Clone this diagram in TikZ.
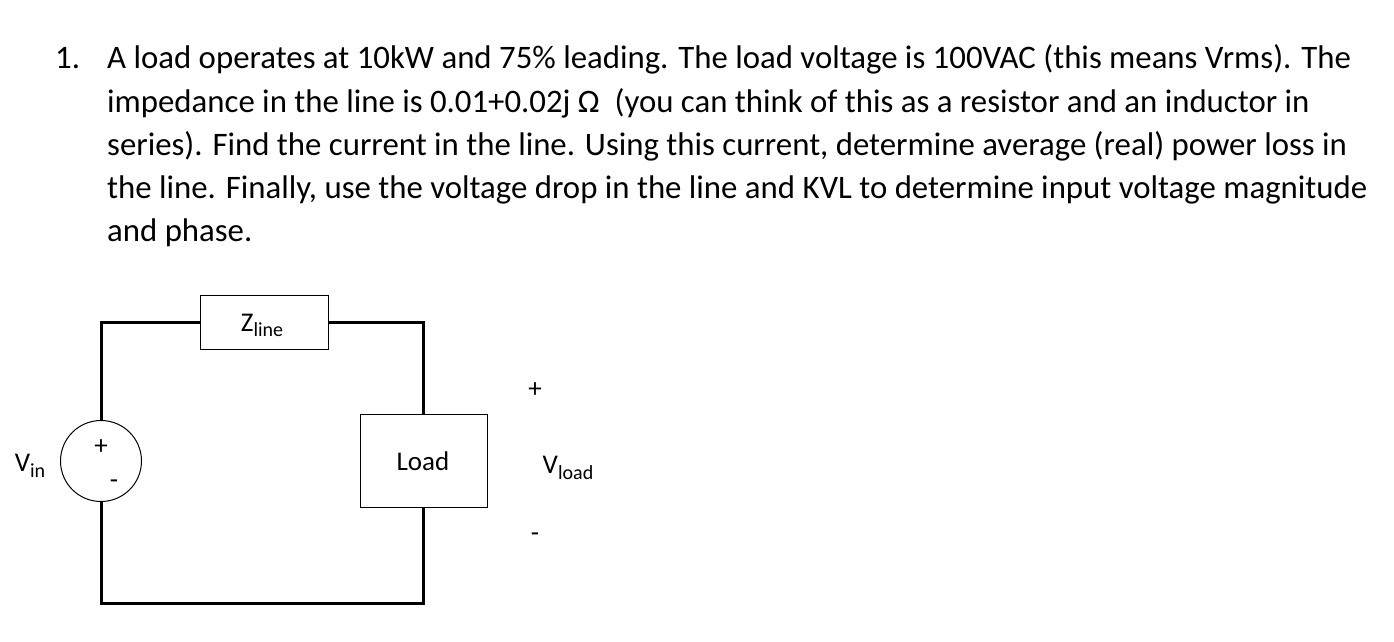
\documentclass[tikz,border=0pt]{standalone}
\usepackage{fontspec}
\setmainfont{Carlito}
\begin{document}
\begin{tikzpicture}[x=1pt,y=-1pt,
  wire/.style={line width=3pt},
  boxst/.style={draw,line width=1pt,inner sep=0pt},
  txt/.style={font=\fontsize{32.8}{44}\selectfont,anchor=base west,inner sep=0pt},
  lbl/.style={font=\fontsize{27}{30}\selectfont,inner sep=0pt}]
\useasboundingbox (0,0) rectangle (1394,642);
\node[txt] (num) at (55,68) {1.};
\node[txt] (l1) at (107,68) {A load operates at 10kW and 75\% leading. The load voltage is 100VAC (this means Vrms). The};
\node[txt] (l2) at (107,112) {impedance in the line is 0.01+0.02j Ω\ \ (you can think of this as a resistor and an inductor in};
\node[txt] (l3) at (107,155) {series). Find the current in the line. Using this current, determine average (real) power loss in};
\node[txt] (l4) at (107,198) {the line. Finally, use the voltage drop in the line and KVL to determine input voltage magnitude};
\node[txt] (l5) at (107,241) {and phase.};
\node[boxst,minimum width=128pt,minimum height=54pt] (z) at (264.5,322) {};
\node[lbl] (zt) at (262,325) {Z\raisebox{-5pt}{\fontsize{20}{22}\selectfont line}};
\node[boxst,minimum width=127pt,minimum height=93pt] (ld) at (423.5,460.5) {};
\node[lbl] (ldt) at (423,461) {Load};
\node[draw,circle,line width=1pt,minimum size=81pt,inner sep=0pt] (src) at (101,461) {};
\node[lbl] (sp) at (101,447) {+};
\node[lbl] (sm) at (114,484) {-};
\node[lbl] (vin) at (30,466) {V\raisebox{-6pt}{\fontsize{20}{22}\selectfont in}};
\node[lbl] (vp) at (535,390) {+};
\node[lbl] (vl) at (568,468) {V\raisebox{-6pt}{\fontsize{20}{22}\selectfont load}};
\node[lbl] (vm) at (535,537) {-};
\draw[wire] (src.north) |- (z.west);
\draw[wire] (z.east) -| (ld.north);
\draw[wire] (ld.south) |- (101,603) -- (src.south);
\end{tikzpicture}
\end{document}
